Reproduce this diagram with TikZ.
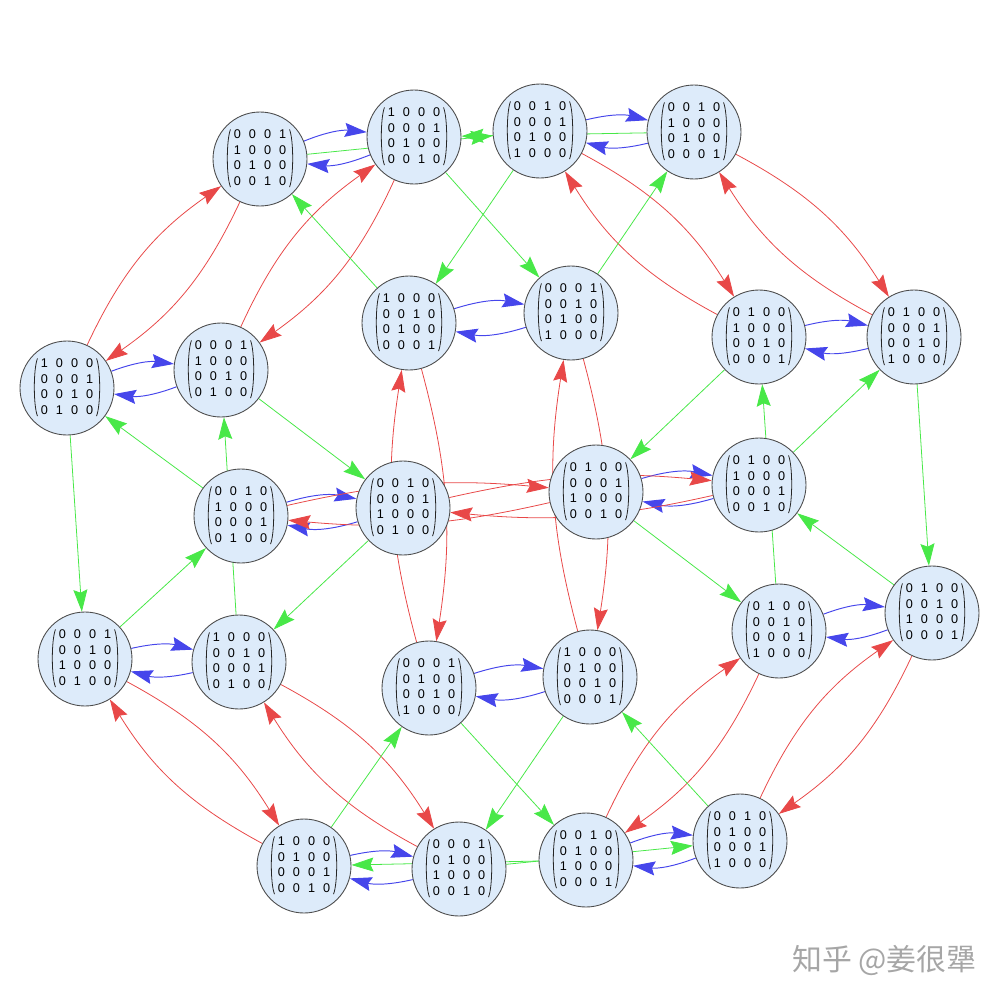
\documentclass[tikz,border=0pt]{standalone}
\usepackage{fontspec}
\setmainfont{Liberation Sans}
\newfontfamily\cjk{Noto Sans CJK SC}
\usetikzlibrary{arrows.meta}

\definecolor{nodefill}{RGB}{221,235,250}
\definecolor{bluearc}{RGB}{70,70,235}
\definecolor{redarc}{RGB}{232,72,72}
\definecolor{greenarc}{RGB}{72,232,72}

\pgfdeclarelayer{edges}
\pgfsetlayers{edges,main}

% one row of a permutation matrix, e.g. \mrow{0010}
\def\mrowx#1#2#3#4{#1&#2&#3&#4}
\newcommand{\mrow}[1]{\expandafter\mrowx#1}
\newcommand{\mat}[4]{\begin{tabular}{@{\hspace{1pt}}c@{\hspace{4.6pt}}c@{\hspace{4.6pt}}c@{\hspace{4.6pt}}c@{\hspace{1pt}}}%
  \mrow{#1}\\\mrow{#2}\\\mrow{#3}\\\mrow{#4}\end{tabular}}

\begin{document}
\begin{tikzpicture}[x=0.2mm, y=0.2mm,
    perm/.style={circle, draw=black!70, fill=nodefill, line width=0.5pt,
      minimum size=18.8mm, inner sep=-3pt, font=\fontsize{7.2}{8.9}\selectfont},
    paren/.style={draw=black!85, line width=0.45pt},
    bluepath/.style={draw=bluearc, line width=0.55pt,
      -{Stealth[length=4.4mm, width=2.8mm, inset=0.6mm]}},
    redpath/.style={draw=redarc, line width=0.45pt,
      -{Stealth[length=4.4mm, width=2.8mm, inset=0.6mm]}},
    greenpath/.style={draw=greenarc, line width=0.45pt,
      -{Stealth[length=4.4mm, width=2.8mm, inset=0.6mm]}}]
    \useasboundingbox (0,0) rectangle (1000,-1000);

    % 置换矩阵
    \foreach \n/\x/\y/\ra/\rb/\rc/\rd in {
        p4123/260/159/0001/1000/0100/0010,
        p1423/414/137/1000/0001/0100/0010,
        p3421/540/131/0010/0001/0100/1000,
        p3124/694/132/0010/1000/0100/0001,
        p1432/67/388/1000/0001/0010/0100,
        p4132/221/370/0001/1000/0010/0100,
        p1324/409/323/1000/0010/0100/0001,
        p4321/571/313/0001/0010/0100/1000,
        p2134/759/337/0100/1000/0010/0001,
        p2431/914/337/0100/0001/0010/1000,
        p3142/241/516/0010/1000/0001/0100,
        p3412/403/508/0010/0001/1000/0100,
        p2413/596/492/0100/0001/1000/0010,
        p2143/759/485/0100/1000/0001/0010,
        p4312/85/659/0001/0010/1000/0100,
        p1342/239/662/1000/0010/0001/0100,
        p4231/429/688/0001/0100/0010/1000,
        p1234/590/677/1000/0100/0010/0001,
        p2341/779/631/0100/0010/0001/1000,
        p2314/932/613/0100/0010/1000/0001,
        p1243/304/866/1000/0100/0001/0010,
        p4213/459/869/0001/0100/1000/0010,
        p3214/586/860/0010/0100/1000/0001,
        p3241/740/841/0010/0100/0001/1000} {
        \node[perm] (\n) at (\x,-\y) {\mat{\ra}{\rb}{\rc}{\rd}};
        % 括号
        \draw[paren] ([shift={(-16.8pt,16.8pt)}]\n.center)
            .. controls +(-2.4pt,-6pt) and +(-2.4pt,6pt) .. ([shift={(-16.8pt,-16pt)}]\n.center);
        \draw[paren] ([shift={(16.8pt,16.8pt)}]\n.center)
            .. controls +(2.4pt,-6pt) and +(2.4pt,6pt) .. ([shift={(16.8pt,-16pt)}]\n.center);
    }

    \node[text=gray!70, font=\cjk\fontsize{17}{20}\selectfont, anchor=west]
        (mark) at (786,-960) {知乎 @姜很犟};

    \begin{pgfonlayer}{edges}
        % 蓝: 成对的弧
        \foreach \a/\b in {p4123/p1423, p3421/p3124, p1432/p4132, p1324/p4321,
                           p2134/p2431, p3142/p3412, p2413/p2143, p4312/p1342,
                           p4231/p1234, p2341/p2314, p1243/p4213, p3214/p3241} {
            \draw[bluepath] (\a) to[bend left=14] (\b);
            \draw[bluepath] (\b) to[bend left=14] (\a);
        }

        % 红: 往返
        \foreach \a/\b/\k in {p4123/p1432/15, p1423/p4132/15, p3421/p2134/15,
                              p3124/p2431/15, p1324/p4231/12, p4321/p1234/12,
                              p3142/p2413/9, p3412/p2143/9, p4312/p1243/15,
                              p1342/p4213/15, p2341/p3214/15, p2314/p3241/15} {
            \draw[redpath] (\a) to[bend left=\k] (\b);
            \draw[redpath] (\b) to[bend left=\k] (\a);
        }

        % 绿: 三角形
        \foreach \a/\b in {p4123/p3421, p3421/p1324, p1324/p4123,
                           p1423/p4321, p4321/p3124, p3124/p1423,
                           p1432/p4312, p4312/p3142, p3142/p1432,
                           p4132/p3412, p3412/p1342, p1342/p4132,
                           p2134/p2413, p2413/p2341, p2341/p2134,
                           p2431/p2314, p2314/p2143, p2143/p2431,
                           p4231/p3214, p3214/p1243, p1243/p4231,
                           p1234/p4213, p4213/p3241, p3241/p1234} {
            \draw[greenpath] (\a) -- (\b);
        }
    \end{pgfonlayer}
\end{tikzpicture}
\end{document}
